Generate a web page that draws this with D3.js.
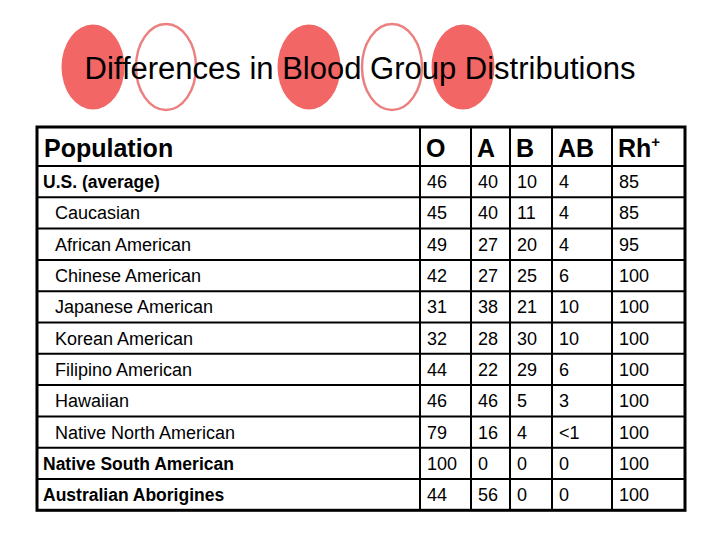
<!DOCTYPE html>
<html><head><meta charset="utf-8">
<script src="https://cdn.jsdelivr.net/npm/d3@7"></script>
<style>body{margin:0;background:#fff}</style>
</head><body><div id="chart"></div>
<script>
'use strict';
const title = 'Differences in Blood Group Distributions';
const columns = ['O', 'A', 'B', 'AB', 'Rh'];
const populations = ['U.S. (average)', 'Caucasian', 'African American', 'Chinese American',
  'Japanese American', 'Korean American', 'Filipino American', 'Hawaiian',
  'Native North American', 'Native South American', 'Australian Aborigines'];
const boldRows = ['U.S. (average)', 'Native South American', 'Australian Aborigines'];
const valO  = ['46','45','49','42','31','32','44','46','79','100','44'];
const valA  = ['40','40','27','27','38','28','22','46','16','0','56'];
const valB  = ['10','11','20','25','21','30','29','5','4','0','0'];
const valAB = ['4','4','4','6','10','10','6','3','<1','0','0'];
const valRh = ['85','85','95','100','100','100','100','100','100','100','100'];
const circles = [{cx:93, filled:true},{cx:166, filled:false},{cx:309, filled:true},{cx:392, filled:false},{cx:463, filled:true}];

const W = 720, H = 540;
const svg = d3.select('#chart').append('svg').attr('width', W).attr('height', H)
  .style('font-family', 'Liberation Sans, Arial, sans-serif');

// decorative ellipses behind title
svg.append('g').selectAll('ellipse').data(circles).join('ellipse')
  .attr('cx', d => d.cx).attr('cy', 67).attr('rx', d => d.filled ? 31.5 : 30).attr('ry', d => d.filled ? 42.5 : 43)
  .attr('fill', d => d.filled ? '#f26666' : 'none')
  .attr('stroke', d => d.filled ? 'none' : '#ec8080').attr('stroke-width', 2.5);

svg.append('text').attr('x', 360).attr('y', 79).attr('text-anchor', 'middle')
  .attr('font-size', 31).attr('fill', '#000').text(title);

// table
const colEdges = [37, 420, 471, 510, 552, 612, 685];
const rowKeys = ['header'].concat(populations);
const y = d3.scaleOrdinal().domain(rowKeys).range([127].concat(d3.range(populations.length).map(i => 166 + i * 31.3)));
const rowH = k => k === 'header' ? 39 : 31.3;
const tableTop = 127, tableBottom = 166 + populations.length * 31.3;

const g = svg.append('g');
// row lines
g.selectAll('line.row').data(rowKeys.slice(1)).join('line')
  .attr('x1', colEdges[0]).attr('x2', colEdges[6])
  .attr('y1', d => y(d)).attr('y2', d => y(d))
  .attr('stroke', '#000').attr('stroke-width', 2);
// column lines
g.selectAll('line.col').data(colEdges.slice(1, 6)).join('line')
  .attr('x1', d => d).attr('x2', d => d).attr('y1', tableTop).attr('y2', tableBottom)
  .attr('stroke', '#000').attr('stroke-width', 2);
g.append('rect').attr('x', colEdges[0]).attr('y', tableTop)
  .attr('width', colEdges[6] - colEdges[0]).attr('height', tableBottom - tableTop)
  .attr('fill', 'none').attr('stroke', '#000').attr('stroke-width', 3);

// header
const hdr = g.append('g').attr('font-weight', 'bold').attr('font-size', 25);
hdr.append('text').attr('x', 44).attr('y', 157).text('Population');
hdr.selectAll('text.c').data(columns).join('text').attr('class', 'c')
  .attr('x', (d, i) => colEdges[i + 1] + 6).attr('y', 157).text(d => d)
  .filter(d => d === 'Rh').append('tspan').attr('font-size', 15).attr('dy', -10).text('+');

// body
const series = [valO, valA, valB, valAB, valRh];
const body = g.append('g').attr('font-size', 18);
populations.forEach((p, r) => {
  const bold = boldRows.includes(p);
  const by = y(p) + rowH(p) / 2 + 6.5;
  body.append('text').attr('x', bold ? 43 : 55).attr('y', by)
    .attr('font-weight', bold ? 'bold' : 'normal').attr('font-size', bold ? 17.5 : 18).text(p);
  series.forEach((s, c) => {
    body.append('text').attr('x', colEdges[c + 1] + 7).attr('y', by).text(s[r]);
  });
});
</script></body></html>
